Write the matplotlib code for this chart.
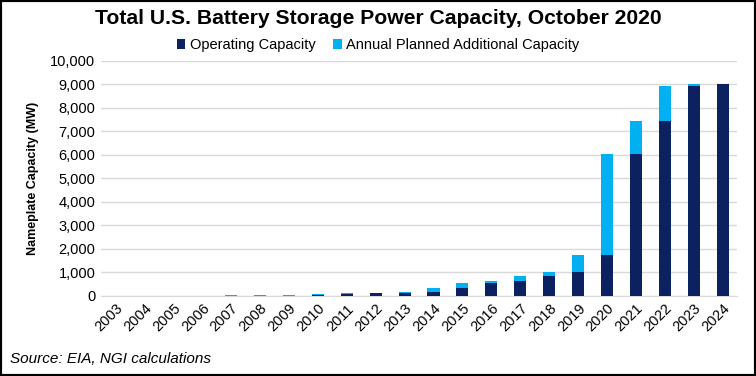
import matplotlib
matplotlib.use("Agg")
import matplotlib.pyplot as plt
from matplotlib.patches import Rectangle
import numpy as np

years = [str(y) for y in range(2003, 2025)]
operating = [0, 0, 0, 0, 0, 10, 15, 60, 85, 113, 130, 150, 350, 555, 640, 850,
             1020, 1745, 6030, 7445, 8930, 9000]
planned = [0, 0, 0, 0, 40, 40, 40, 30, 28, 27, 50, 200, 200, 85, 210, 170,
           725, 4285, 1415, 1505, 80, 0]

dark = "#0b2160"
light = "#00b0f0"

plt.rcParams['font.family'] = ['Liberation Sans', 'DejaVu Sans']

fig = plt.figure(figsize=(7.56, 3.76), dpi=100)
ax = fig.add_axes([0.1336, 0.2128, 0.8414, 0.625])

x = np.arange(len(years))
w = 0.42
ax.bar(x, operating, width=w, color=dark, label="Operating Capacity", zorder=3)
ax.bar(x, planned, width=w, bottom=operating, color=light,
       label="Annual Planned Additional Capacity", zorder=3)

ax.set_xlim(-0.5, len(years) - 0.5)
ax.set_ylim(0, 10000)
ax.set_yticks(np.arange(0, 10001, 1000))
ax.set_yticklabels([f"{v:,}" for v in range(0, 10001, 1000)], fontsize=10.5)
ax.set_xticks(x)
ax.set_xticklabels(years, rotation=45, ha='right', rotation_mode='anchor', fontsize=10.5)
ax.grid(axis='y', color='#d9d9d9', linewidth=1, zorder=0)
for s in ['top', 'right', 'left']:
    ax.spines[s].set_visible(False)
ax.spines['bottom'].set_color('#d9d9d9')
ax.tick_params(axis='both', length=0, pad=4)
ax.set_ylabel("Nameplate Capacity (MW)", fontsize=9, fontweight='bold', labelpad=8)

fig.text(0.5, 0.952, "Total U.S. Battery Storage Power Capacity, October 2020",
         ha='center', va='center', fontsize=15.2, fontweight='bold')
leg = fig.legend(loc='center', bbox_to_anchor=(0.5, 0.88), ncol=2, frameon=False,
                 fontsize=10.5, handlelength=0.6, handleheight=0.6, handletextpad=0.3,
                 columnspacing=1.2)
fig.text(0.013, 0.045, "Source: EIA, NGI calculations", ha='left', va='center',
         fontsize=11, style='italic')

fig.patches.append(Rectangle((0, 0), 1, 1, transform=fig.transFigure, fill=False,
                             edgecolor='black', linewidth=3))

fig.savefig("out.png", dpi=100)
